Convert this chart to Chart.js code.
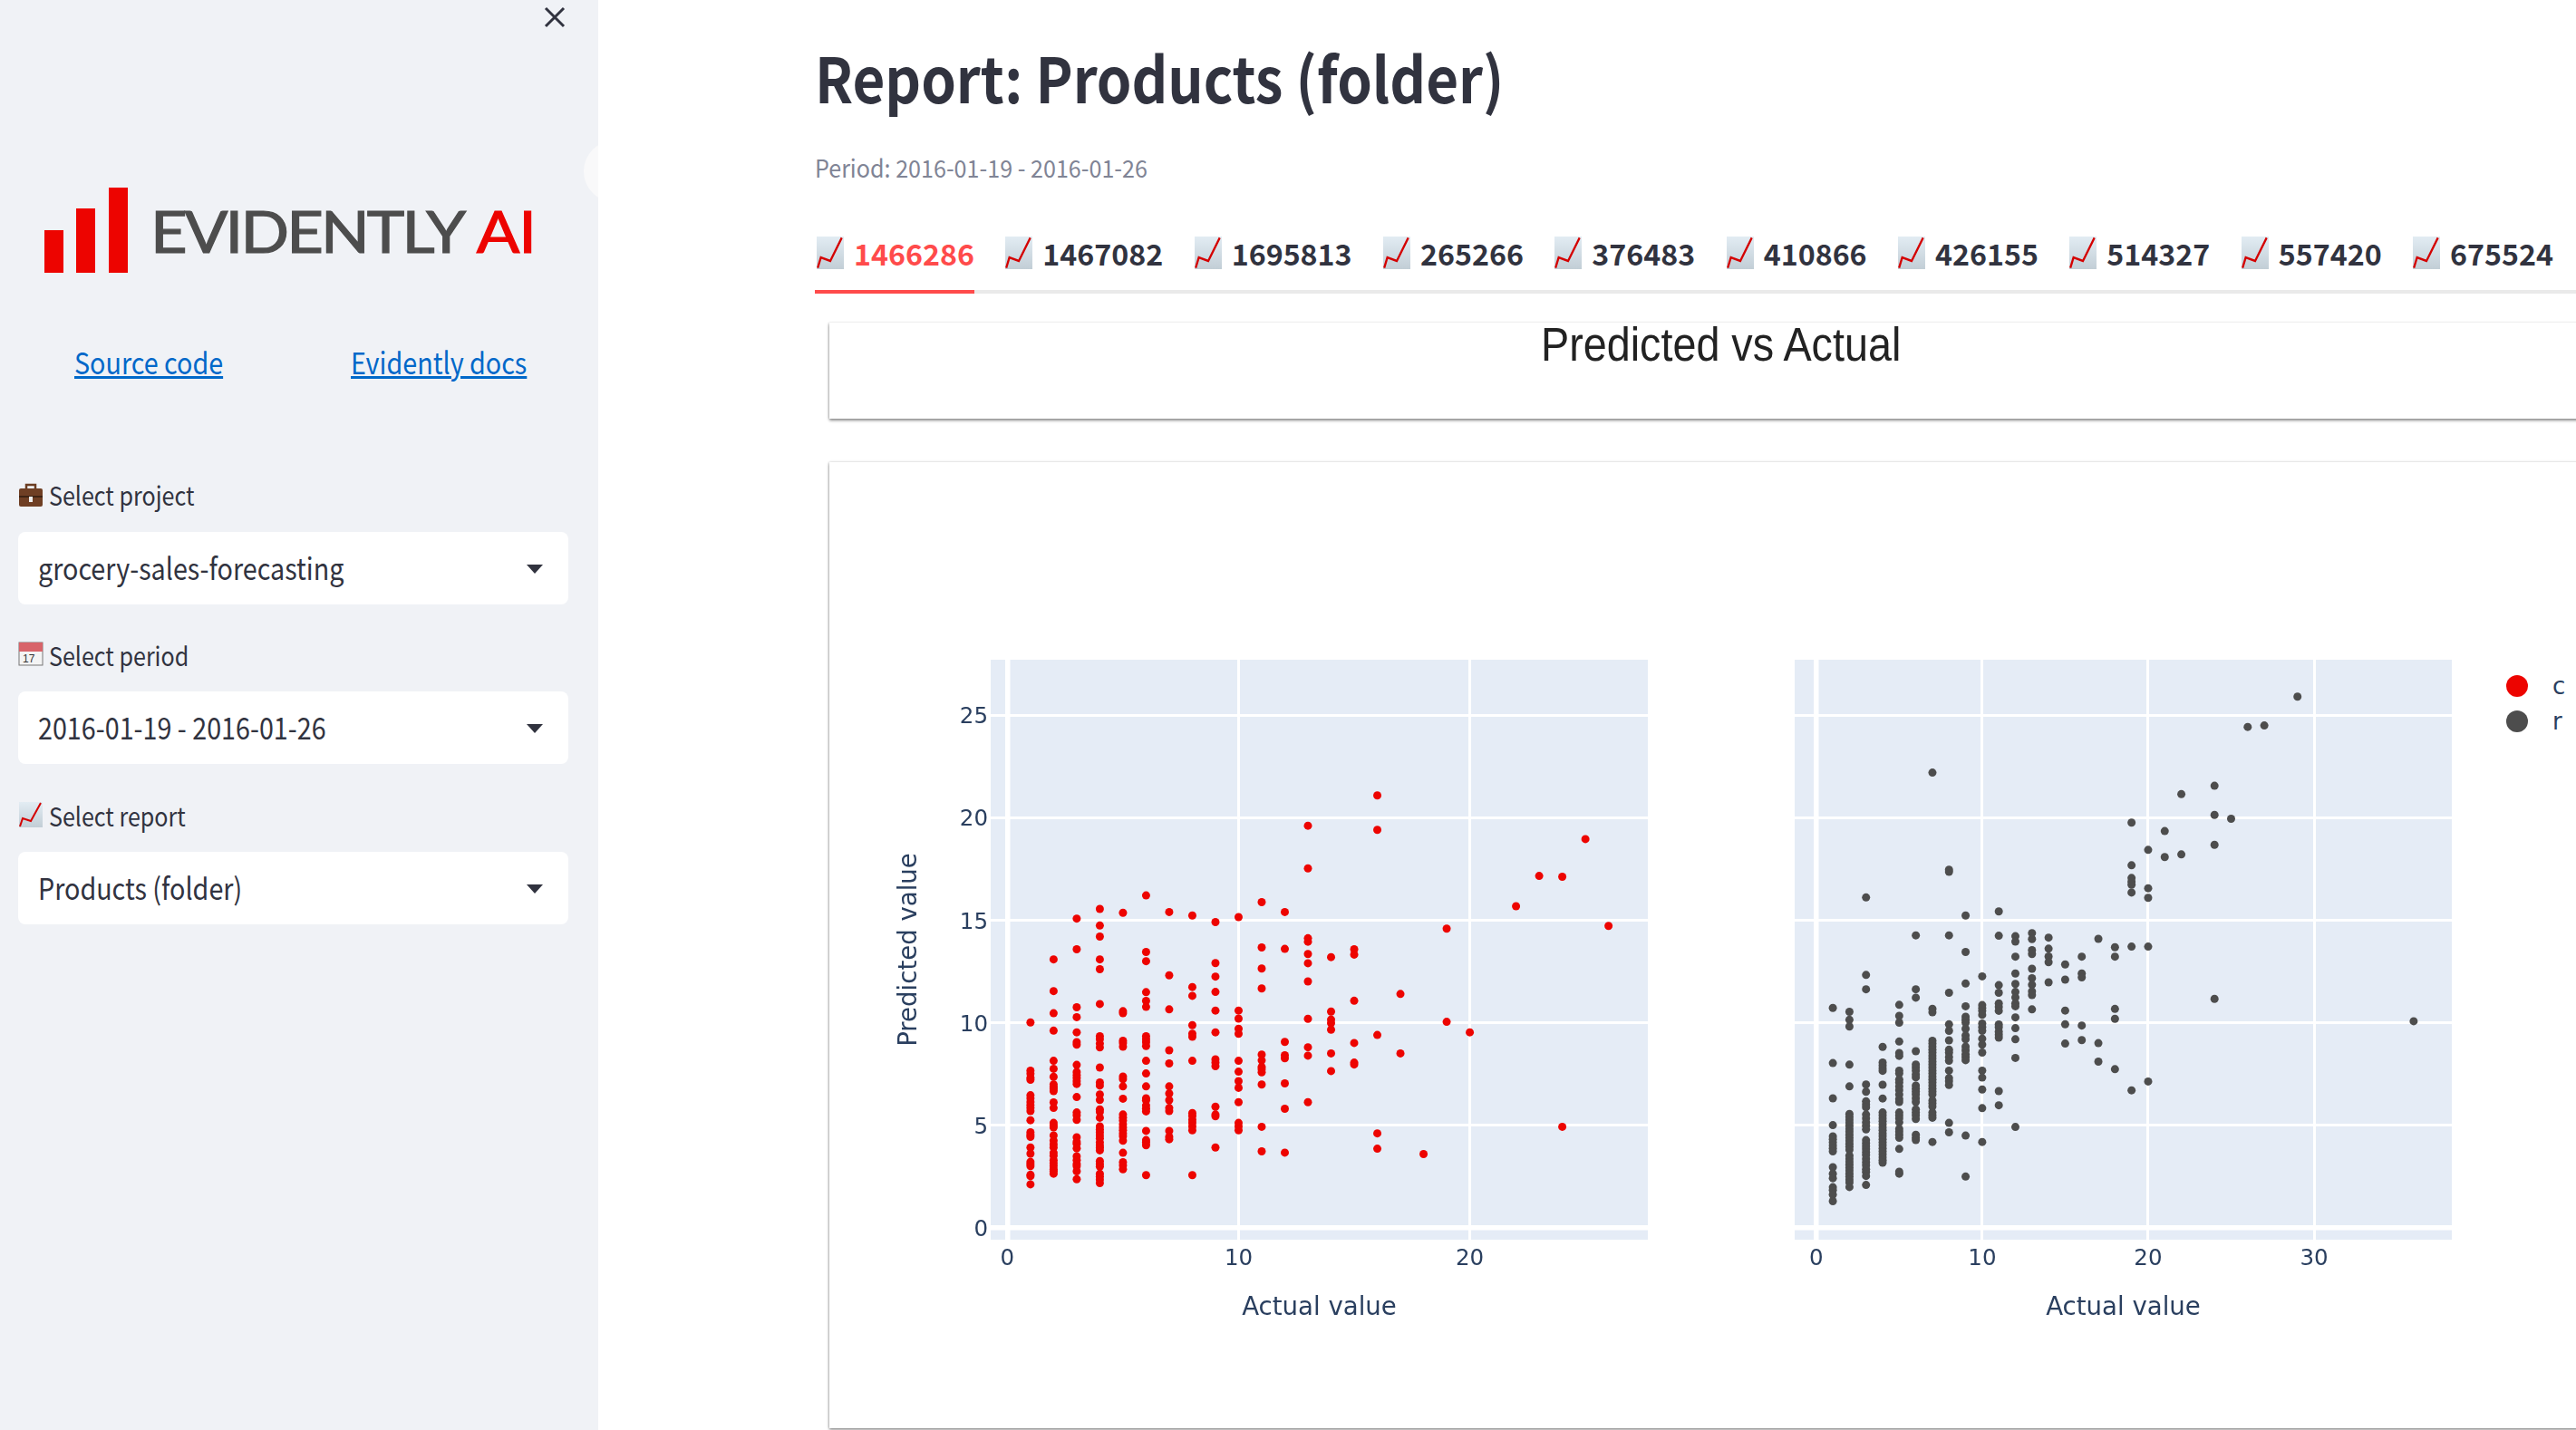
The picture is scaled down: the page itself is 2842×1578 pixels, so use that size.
<!DOCTYPE html>
<html>
<head>
<meta charset="utf-8">
<title>Report: Products (folder)</title>
<script src="https://cdn.jsdelivr.net/npm/chart.js@4"></script>
<style>
  html, body { margin: 0; padding: 0; width: 2842px; height: 1578px; overflow: hidden; background: #fff; }
  body { position: relative; font-family: "Noto Sans CJK SC", "Noto Sans", sans-serif; color: #31333f; }
  .abs { position: absolute; white-space: nowrap; transform-origin: left center; }
  #sidebar { position: absolute; left: 0; top: 0; width: 660px; height: 1578px; background: #f0f2f6; overflow: hidden; }
  #collapse { position: absolute; left: 644px; top: 155px; width: 68px; height: 68px; border-radius: 50%; background: #f9f9fa; }
  .logoBar { position: absolute; background: #ed0400; bottom: 1277px; width: 21px; }
  #logoText { left: 166px; top: 215px; font: 400 64px/80px Lato, sans-serif; letter-spacing: -2.6px; color: #4d4d4d; -webkit-text-stroke: 1.2px #4d4d4d; transform: scaleX(1.1); }
  #logoText span { color: #ed0400; -webkit-text-stroke: 1.2px #ed0400; letter-spacing: -1px; }
  .link { font-size: 33px; line-height: 40px; color: #0068c9; text-decoration: underline; top: 379px; transform: scaleX(.87); }
  .label { font-size: 28.5px; line-height: 36px; left: 54px; transform: scaleX(.88); }
  .select { position: absolute; left: 20px; width: 585px; padding-left: 22px; height: 80px; background: #fff; border-radius: 8px; font-size: 33px; line-height: 79px; }
  .select span { display: inline-block; white-space: nowrap; transform: scaleX(.87); transform-origin: left center; }
  .select::after { content: ""; position: absolute; left: 561px; top: 36px; border-left: 9px solid transparent; border-right: 9px solid transparent; border-top: 10px solid #31333f; }
  .emoji { position: absolute; }
  #title { left: 899px; top: 35px; font-size: 69px; line-height: 98px; font-weight: 700; transform: scaleX(.896); }
  #period { left: 899px; top: 167px; font-size: 27px; line-height: 36px; color: #808495; transform: scaleX(.93); }
  #tabRule { position: absolute; left: 899px; top: 320px; right: 0; height: 4px; background: #eaeaea; }
  #tabs { position: absolute; left: 899px; top: 246px; display: flex; gap: 32.4px; }
  .tab { display: flex; align-items: center; gap: 11px; height: 70px; padding-bottom: 4px; box-sizing: content-box; font-size: 32.2px; font-weight: 700; }
  .tab svg { margin-left: 2px; margin-top: -4px; flex: none; }
  .tab span { position: relative; top: -2px; }
  .tab.active { color: #ff4b4b; border-bottom: 4px solid #ff4b4b; }
  .card { position: absolute; left: 915px; right: -20px; background: #fff; }
  #card1 { top: 356px; height: 106px; box-shadow: 0 2px 3px rgba(0,0,0,.45), -1px 0 2px rgba(0,0,0,.12); }
  #card2 { top: 510px; height: 1066px; box-shadow: 0 2px 3px rgba(0,0,0,.4), -1px 0 2px rgba(0,0,0,.12), 0 -1px 3px rgba(0,0,0,.05); }
  #cardTitle { left: 1700px; top: 349px; font: 400 51px/64px "Liberation Sans", sans-serif; color: #222; transform: scaleX(.916); }
  canvas { position: absolute; display: block; }
  .legendDot { position: absolute; left: 2765px; width: 24px; height: 24px; border-radius: 50%; }
  .legendText { left: 2816px; font: 400 26px/30px "DejaVu Sans", sans-serif; color: #2a3f5f; }
</style>
</head>
<body>
<div id="sidebar">
  <div id="collapse"></div>
  <svg class="emoji" style="left:600px;top:7px" width="24" height="24" viewBox="0 0 24 24"><path d="M2 2L22 22M22 2L2 22" stroke="#31333f" stroke-width="3"/></svg>
  <div class="logoBar" style="left:49px;height:47px"></div>
  <div class="logoBar" style="left:84px;height:71px"></div>
  <div class="logoBar" style="left:120px;height:94px"></div>
  <div class="abs" id="logoText">EVIDENTLY<span> AI</span></div>
  <div class="abs link" style="left:82px">Source code</div>
  <div class="abs link" style="left:387px">Evidently docs</div>

  <svg class="emoji" style="left:20px;top:533px" width="28" height="27" viewBox="0 0 28 27">
    <path d="M9 6V2h10v4" fill="none" stroke="#6b3d22" stroke-width="2.5"/>
    <rect x="1" y="6" width="26" height="20" rx="2" fill="#6f3f24"/>
    <rect x="1" y="14" width="26" height="2" fill="#3f2313"/>
    <rect x="12" y="15" width="4" height="6" fill="#eee"/>
  </svg>
  <div class="abs label" style="top:528px">Select project</div>
  <div class="select" style="top:587px"><span>grocery-sales-forecasting</span></div>

  <svg class="emoji" style="left:20px;top:708px" width="28" height="27" viewBox="0 0 28 27">
    <rect x="1" y="1" width="26" height="25" fill="#f4f4f4" stroke="#777"/>
    <rect x="1" y="1" width="26" height="10" fill="#d8646a"/>
    <text x="5" y="23" font-size="12" fill="#333" font-family="Liberation Sans">17</text>
  </svg>
  <div class="abs label" style="top:705px">Select period</div>
  <div class="select" style="top:763px"><span>2016-01-19 - 2016-01-26</span></div>

  <svg class="emoji chartIcon" style="left:21px;top:885px" width="26" height="28"></svg>
  <div class="abs label" style="top:882px">Select report</div>
  <div class="select" style="top:940px"><span>Products (folder)</span></div>
</div>

<div class="abs" id="title">Report: Products (folder)</div>
<div class="abs" id="period">Period: 2016-01-19 - 2016-01-26</div>
<div id="tabRule"></div>
<div id="tabs"></div>

<div class="card" id="card1"></div>
<div class="abs" id="cardTitle">Predicted vs Actual</div>
<div class="card" id="card2"></div>

<canvas id="currentChart" width="850" height="752" style="left:980px;top:708px"></canvas>
<canvas id="referenceChart" width="757" height="752" style="left:1960px;top:708px"></canvas>

<div class="legendDot" style="top:745px;background:#ed0400"></div>
<div class="abs legendText" style="top:742px">c</div>
<div class="legendDot" style="top:784px;background:#4d4d4d"></div>
<div class="abs legendText" style="top:781px">r</div>

<script>
const tabLabels = ['1466286', '1467082', '1695813', '265266', '376483', '410866', '426155', '514327', '557420', '675524'];

const xTitle = 'Actual value';
const yTitle = 'Predicted value';

// one list of predicted values per actual value
const currentActual = [1, 2, 3, 4, 5, 6, 7, 8, 9, 10, 11, 12, 13, 14, 15, 16, 17, 18, 19, 20, 22, 23, 24, 25, 26];
const currentPredicted = [
  [10, 7.65, 7.5, 7.3, 7.2, 6.45, 6.3, 6.12, 5.97, 5.83, 5.68, 5.23, 4.64, 4.52, 4.42, 3.9, 3.6, 3.2, 3.09, 2.99, 2.57, 2.5, 2.1],
  [13.08, 11.53, 10.45, 9.6, 8.13, 7.74, 7.35, 6.97, 6.85, 6.75, 6.65, 6.1, 5.83, 5.1, 4.98, 4.88, 4.49, 4.23, 4.05, 3.9, 3.64, 3.5, 3.28, 3.13, 2.99, 2.84, 2.74, 2.62],
  [15.07, 13.57, 10.74, 10.26, 9.52, 9.04, 8.92, 7.93, 7.58, 7.43, 7.29, 7.14, 7, 6.36, 5.61, 5.47, 5.25, 4.4, 4.18, 4.08, 3.86, 3.47, 3.28, 3.09, 2.99, 2.74, 2.35],
  [15.54, 14.73, 14.19, 13.08, 12.6, 10.9, 9.33, 9.18, 8.97, 8.78, 7.8, 7.07, 6.92, 6.49, 6.22, 5.76, 5.64, 5.35, 4.93, 4.78, 4.64, 4.49, 4.34, 4.15, 4, 3.89, 3.76, 3.24, 3.09, 2.97, 2.62, 2.48, 2.33, 2.16],
  [15.35, 10.55, 10.45, 9.11, 9, 8.82, 7.36, 7.24, 6.88, 6.28, 5.51, 5.36, 5.22, 5.03, 4.88, 4.74, 4.59, 4.45, 4.23, 3.64, 3.18, 3.03, 2.84],
  [16.2, 13.44, 12.99, 11.48, 11.05, 10.76, 9.33, 9.18, 9.04, 8.85, 8.13, 7.51, 6.88, 6.3, 6.2, 5.95, 5.8, 5.66, 4.71, 4.26, 4.15, 4.01, 2.55],
  [15.39, 12.3, 10.64, 8.64, 8, 6.88, 6.53, 6.21, 5.83, 5.68, 4.71, 4.42, 4.3],
  [15.22, 11.73, 11.3, 9.87, 9.45, 9.3, 8.13, 5.58, 5.44, 5.25, 5.1, 4.93, 4.74, 2.55],
  [14.9, 12.9, 12.24, 11.49, 10.58, 9.52, 8.2, 8.05, 7.87, 5.89, 5.51, 5.42, 3.9],
  [15.14, 10.58, 10.19, 9.69, 9.45, 8.13, 7.6, 7.14, 6.81, 6.11, 5.1, 4.93, 4.74],
  [15.87, 13.66, 12.63, 11.66, 8.43, 8.15, 7.83, 7.72, 7.57, 6.97, 4.91, 3.71],
  [15.39, 13.59, 9.05, 8.4, 8.25, 7.03, 5.79, 3.65],
  [19.6, 17.52, 14.11, 13.94, 13.34, 12.89, 12, 10.18, 8.79, 8.38, 6.11],
  [13.19, 10.53, 10.14, 9.97, 9.65, 8.49, 7.63],
  [13.57, 13.31, 11.06, 9, 8.04, 7.95],
  [21.08, 19.4, 9.39, 4.59, 3.84],
  [11.39, 8.49],
  [3.58],
  [14.58, 10.03],
  [9.52],
  [15.67],
  [17.15],
  [17.11, 4.91],
  [18.95],
  [14.71]
];

const referenceActual = [1, 2, 3, 4, 5, 6, 7, 8, 9, 10, 11, 12, 13, 14, 15, 16, 17, 18, 19, 20, 21, 22, 24, 25, 26, 27, 29, 36];
const referencePredicted = [
  [10.71, 8.02, 6.3, 4.99, 4.44, 4.3, 4.15, 4, 3.86, 3.71, 2.94, 2.62, 2.4, 1.96, 1.82, 1.6, 1.28],
  [10.52, 10.13, 9.8, 7.94, 6.88, 5.54, 5.39, 5.25, 5.1, 4.96, 4.81, 4.67, 4.52, 4.37, 4.23, 4.08, 3.94, 3.79, 3.5, 3.35, 3.2, 3.06, 2.91, 2.77, 2.62, 2.48, 2.33, 2.19, 1.97],
  [16.1, 12.32, 11.62, 6.97, 6.62, 6.15, 6, 5.86, 5.51, 5.32, 5.13, 4.96, 4.78, 4.26, 4.11, 3.97, 3.82, 3.67, 3.53, 3.35, 3.18, 3.03, 2.84, 2.7, 2.51, 2.07],
  [8.81, 8.05, 7.9, 7.76, 7.64, 6.96, 6.29, 5.61, 5.47, 5.32, 5.18, 5.03, 4.88, 4.74, 4.59, 4.45, 4.3, 4.15, 4.01, 3.86, 3.71, 3.57, 3.42, 3.28, 3.16],
  [10.86, 10.32, 9.99, 9.07, 8.51, 8.37, 7.65, 7.51, 7.22, 7.07, 6.88, 6.7, 6.49, 6.27, 6.12, 5.61, 5.47, 5.32, 5.13, 4.81, 4.67, 4.52, 4.37, 3.83, 2.72, 2.62],
  [14.25, 11.62, 11.21, 8.6, 7.95, 7.8, 7.65, 7.46, 7.32, 6.92, 6.77, 6.63, 6.49, 6.3, 6.12, 5.76, 5.61, 5.47, 5.29, 4.52, 4.37, 4.26],
  [22.19, 10.67, 10.5, 9.11, 8.97, 8.82, 8.67, 8.53, 8.38, 8.24, 8.09, 7.95, 7.8, 7.65, 7.51, 7.36, 7.22, 7.07, 6.92, 6.77, 6.63, 6.49, 6.19, 6.05, 5.9, 5.61, 5.47, 5.35, 4.17],
  [17.45, 17.35, 14.25, 11.45, 9.91, 9.59, 9.13, 8.67, 8.53, 8.31, 8.13, 7.65, 7.29, 7.14, 6.95, 5.1, 4.64],
  [15.22, 13.44, 11.9, 10.79, 10.28, 10.13, 9.99, 9.69, 9.36, 9.18, 8.82, 8.64, 8.45, 8.31, 8.16, 4.48, 2.48],
  [12.25, 10.85, 10.7, 10.56, 10.37, 9.95, 9.77, 9.59, 9.21, 8.92, 8.53, 7.65, 7.31, 6.73, 5.82, 4.17],
  [15.42, 14.23, 11.82, 11.45, 10.93, 10.76, 10.57, 9.9, 9.77, 9.55, 9.4, 9.26, 6.65, 5.96],
  [14.21, 13.95, 13.21, 12.39, 11.88, 11.49, 11.22, 10.93, 10.79, 10.25, 9.72, 9.18, 8.27, 4.9],
  [14.36, 14.07, 13.53, 13.34, 12.62, 12.16, 11.84, 11.52, 11.34, 10.64],
  [14.14, 13.6, 13.22, 12.94, 11.96],
  [12.83, 12.09, 10.58, 9.91, 8.97],
  [13.21, 12.39, 12.2, 9.85, 9.14],
  [14.08, 8.99, 8.09],
  [13.67, 13.21, 10.66, 10.18, 7.72],
  [19.75, 17.67, 17.05, 16.87, 16.72, 16.34, 13.7, 6.69],
  [18.42, 16.55, 16.08, 13.7, 7.12],
  [19.34, 18.07],
  [21.14, 18.2],
  [21.55, 20.13, 18.67, 11.15],
  [19.94],
  [24.42],
  [24.49],
  [25.9],
  [10.06]
];

const chartIcon = `
  <defs><linearGradient id="ig" x1="0" y1="0" x2="0" y2="1"><stop offset="0" stop-color="#e2ecf3"/><stop offset="1" stop-color="#c2ced6"/></linearGradient></defs>
  <rect x="0" y="0" width="26" height="28" fill="url(#ig)"/>
  <path d="M1 27L4 18L13 21L24 1" fill="none" stroke="#d40000" stroke-width="2"/>`;

document.querySelectorAll('.chartIcon').forEach(el => { el.setAttribute('viewBox', '0 0 26 28'); el.innerHTML = chartIcon; });

document.getElementById('tabs').innerHTML = tabLabels.map((label, i) =>
  `<div class="tab${i === 0 ? ' active' : ''}"><svg width="30" height="36" viewBox="0 0 26 28" preserveAspectRatio="none">${chartIcon}</svg><span>${label}</span></div>`
).join('');

// flatten the per-column lists into {x, y} points
function toPoints(actual, predicted) {
  const points = [];
  actual.forEach((x, i) => predicted[i].forEach(y => points.push({ x, y })));
  return points;
}

const plotBackground = {
  id: 'plotBackground',
  beforeDraw(chart) {
    const { ctx, chartArea: a } = chart;
    ctx.save();
    ctx.fillStyle = '#e5ecf6';
    ctx.fillRect(a.left, a.top, a.right - a.left, a.bottom - a.top);
    ctx.restore();
  }
};

const tickFont = { family: '"DejaVu Sans", sans-serif', size: 24.5 };
const titleFont = { family: '"DejaVu Sans", sans-serif', size: 27.6 };
const zeroGrid = { color: '#fff', lineWidth: c => (c.tick && c.tick.value === 0 ? 5.5 : 3), drawTicks: false };

function renderScatter(id, points, color, xMin, xMax, axisWidth, showY) {
  return new Chart(document.getElementById(id), {
    type: 'scatter',
    data: { datasets: [{ data: points, backgroundColor: color, borderColor: color, pointRadius: 4.5, pointBorderWidth: 0 }] },
    plugins: [plotBackground],
    options: {
      responsive: false,
      animation: false,
      devicePixelRatio: 1,
      events: [],
      // padding bigger than half a tick label, so the plot box stays where we put it
      layout: { padding: { top: 20, right: 12, left: 0, bottom: 0 } },
      plugins: { legend: { display: false }, tooltip: { enabled: false } },
      scales: {
        x: {
          type: 'linear', min: xMin, max: xMax,
          afterFit: s => { s.height = 92; },
          border: { display: false },
          grid: zeroGrid,
          ticks: { stepSize: 10, includeBounds: false, maxRotation: 0, color: '#2a3f5f', font: tickFont, padding: 7 },
          title: { display: true, text: xTitle, color: '#2a3f5f', font: titleFont, padding: { top: 0, bottom: 0 } }
        },
        y: {
          type: 'linear', min: -0.6, max: 27.7,
          afterFit: s => { s.width = axisWidth; },
          border: { display: false },
          grid: zeroGrid,
          ticks: { display: showY, stepSize: 5, includeBounds: false, labelOffset: 3, color: '#2a3f5f', font: tickFont, padding: 3 },
          title: { display: showY, text: yTitle, color: '#2a3f5f', font: titleFont, padding: { top: 7, bottom: 0 } }
        }
      }
    }
  });
}

renderScatter('currentChart', toPoints(currentActual, currentPredicted), '#ed0400', -0.72, 27.7, 113, true);
renderScatter('referenceChart', toPoints(referenceActual, referencePredicted), '#4d4d4d', -1.3, 38.3, 20, false);
</script>
</body>
</html>
